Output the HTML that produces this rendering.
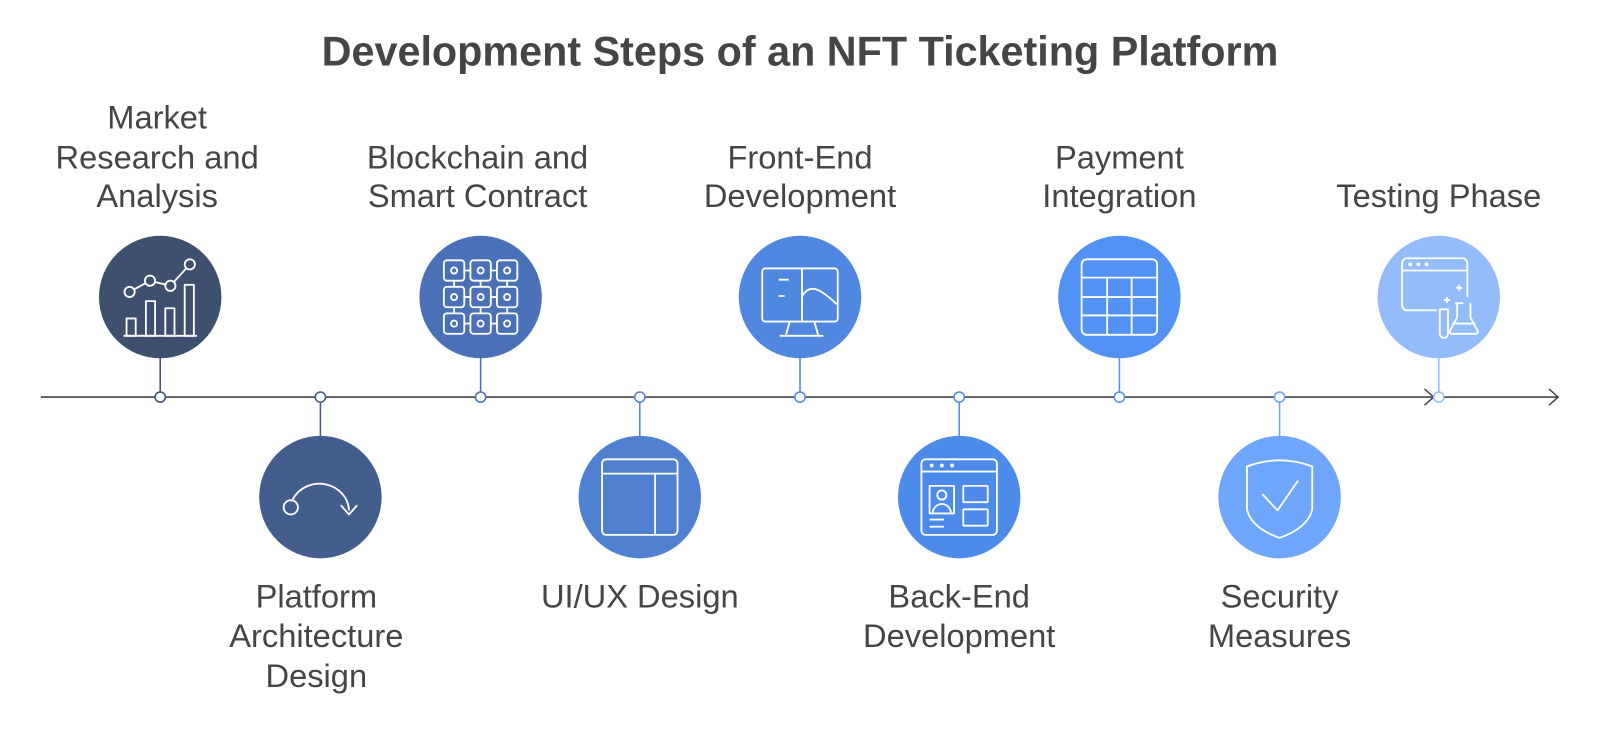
<!DOCTYPE html>
<html><head><meta charset="utf-8"><style>
html,body{margin:0;padding:0;background:#fff;}
svg{display:block;}
text{font-family:"Liberation Sans",Arial,sans-serif;fill:#454545;}
</style></head><body>
<svg width="1600" height="738" viewBox="0 0 1568 723" preserveAspectRatio="none" xmlns="http://www.w3.org/2000/svg">
<text x="784" y="64" text-anchor="middle" font-size="40.5" font-weight="bold">Development Steps of an NFT Ticketing Platform</text>

<line x1="40" y1="389" x2="1526" y2="389" stroke="#454545" stroke-width="1.5"/>
<polyline points="1518,381 1527,389 1518,397" fill="none" stroke="#454545" stroke-width="1.5"/>
<polyline points="1396,381 1405,389 1396,397" fill="none" stroke="#454545" stroke-width="1.5"/>

<g stroke-width="1.5" fill="#fff">
<line x1="157" y1="350" x2="157" y2="384" stroke="#3d506e"/><circle cx="157" cy="389" r="5" stroke="#3d506e"/>
<line x1="314" y1="394" x2="314" y2="428" stroke="#435e8d"/><circle cx="314" cy="389" r="5" stroke="#435e8d"/>
<line x1="471" y1="350" x2="471" y2="384" stroke="#4a70b8"/><circle cx="471" cy="389" r="5" stroke="#4a70b8"/>
<line x1="627" y1="394" x2="627" y2="428" stroke="#5080d0"/><circle cx="627" cy="389" r="5" stroke="#5080d0"/>
<line x1="784" y1="350" x2="784" y2="384" stroke="#5087e0"/><circle cx="784" cy="389" r="5" stroke="#5087e0"/>
<line x1="940" y1="394" x2="940" y2="428" stroke="#4d8bea"/><circle cx="940" cy="389" r="5" stroke="#4d8bea"/>
<line x1="1097" y1="350" x2="1097" y2="384" stroke="#5192f4"/><circle cx="1097" cy="389" r="5" stroke="#5192f4"/>
<line x1="1254" y1="394" x2="1254" y2="428" stroke="#6ea6fb"/><circle cx="1254" cy="389" r="5" stroke="#6ea6fb"/>
<line x1="1410" y1="350" x2="1410" y2="384" stroke="#94bcfb"/><circle cx="1410" cy="389" r="5" stroke="#94bcfb"/>
</g>

<circle cx="157" cy="291" r="60" fill="#3d506e"/>
<circle cx="314" cy="487" r="60" fill="#435e8d"/>
<circle cx="471" cy="291" r="60" fill="#4a70b8"/>
<circle cx="627" cy="487" r="60" fill="#5080d0"/>
<circle cx="784" cy="291" r="60" fill="#5087e0"/>
<circle cx="940" cy="487" r="60" fill="#4d8bea"/>
<circle cx="1097" cy="291" r="60" fill="#5192f4"/>
<circle cx="1254" cy="487" r="60" fill="#6ea6fb"/>
<circle cx="1410" cy="291" r="60" fill="#94bcfb"/>

<g fill="none" stroke="#fff" stroke-width="1.8" stroke-linejoin="round">
<g transform="translate(157,291)">
<line x1="-36" y1="38" x2="36" y2="38"/>
<rect x="-33" y="21" width="9" height="17"/><rect x="-14" y="4" width="9" height="34"/>
<rect x="5" y="11" width="9" height="27"/><rect x="24" y="-12" width="9" height="50"/>
<polyline points="-30,-5 -10,-16 10,-11 29,-32"/>
<circle cx="-30" cy="-5" r="5" fill="#3d506e"/><circle cx="-10" cy="-16" r="5" fill="#3d506e"/>
<circle cx="10" cy="-11" r="5" fill="#3d506e"/><circle cx="29" cy="-32" r="5" fill="#3d506e"/>
</g>
<g transform="translate(314,487)">
<circle cx="-29" cy="10" r="7"/>
<path d="M -27,2 A 29 27 0 0 1 28,13"/>
<polyline points="20,8 28,17 36,8"/>
</g>
<g transform="translate(471,291)">
<rect x="-36" y="-36" width="20" height="20" rx="3"/><rect x="-10" y="-36" width="20" height="20" rx="3"/><rect x="16" y="-36" width="20" height="20" rx="3"/>
<rect x="-36" y="-10" width="20" height="20" rx="3"/><rect x="-10" y="-10" width="20" height="20" rx="3"/><rect x="16" y="-10" width="20" height="20" rx="3"/>
<rect x="-36" y="16" width="20" height="20" rx="3"/><rect x="-10" y="16" width="20" height="20" rx="3"/><rect x="16" y="16" width="20" height="20" rx="3"/>
<circle cx="-26" cy="-26" r="3"/><circle cx="0" cy="-26" r="3"/><circle cx="26" cy="-26" r="3"/>
<circle cx="-26" cy="0" r="3"/><circle cx="0" cy="0" r="3"/><circle cx="26" cy="0" r="3"/>
<circle cx="-26" cy="26" r="3"/><circle cx="0" cy="26" r="3"/><circle cx="26" cy="26" r="3"/>
<path d="M-16,-26h6M10,-26h6M-16,0h6M10,0h6M-16,26h6M10,26h6M-26,-16v6M-26,10v6M0,-16v6M0,10v6M26,-16v6M26,10v6"/>
</g>
<g transform="translate(627,487)">
<rect x="-37" y="-37" width="74" height="74" rx="4"/>
<line x1="-37" y1="-23" x2="37" y2="-23"/><line x1="15" y1="-23" x2="15" y2="37"/>
</g>
<g transform="translate(784,291)">
<rect x="-37" y="-28" width="74" height="52" rx="3"/>
<line x1="2" y1="-28" x2="2" y2="24"/>
<path d="M-21,-17h10M-21,-1h6"/>
<path d="M2,-1 C10,-14 20,-8 36,7"/>
<path d="M-10,24 L-14,38 M14,24 L18,38 M-20,38 H23"/>
</g>
<g transform="translate(940,487)">
<rect x="-37" y="-37" width="74" height="74" rx="4"/>
<line x1="-37" y1="-25" x2="37" y2="-25"/>
<circle cx="-27" cy="-31" r="1" fill="#fff"/><circle cx="-17" cy="-31" r="1" fill="#fff"/><circle cx="-7" cy="-31" r="1" fill="#fff"/>
<rect x="-29" y="-11" width="24" height="27"/>
<circle cx="-17" cy="-2" r="4.5"/><path d="M-26,15 C-24,4 -10,4 -8,15"/>
<rect x="4" y="-11" width="24" height="16" rx="1"/><rect x="4" y="12" width="24" height="16" rx="1"/>
<path d="M-29,22h14M-29,29h14"/>
</g>
<g transform="translate(1097,291)">
<rect x="-37" y="-37" width="74" height="74" rx="5"/>
<path d="M-37,-19H37M-37,0H37M-37,18H37M-12,-19V37M12,-19V37"/>
</g>
<g transform="translate(1254,487)">
<path d="M-32,-30 Q0,-42 32,-30 L32,12 Q28,30 0,40 Q-28,30 -32,12 Z"/>
<polyline points="-17,-3 -2,13 18,-16"/>
</g>
<g transform="translate(1410,291)">
<path d="M-2,13 H-31 a5,5 0 0 1 -5,-5 V-33 a5,5 0 0 1 5,-5 H23 a5,5 0 0 1 5,5 V0"/>
<line x1="-36" y1="-26" x2="28" y2="-26"/>
<circle cx="-28" cy="-32" r="1" fill="#fff"/><circle cx="-20" cy="-32" r="1" fill="#fff"/><circle cx="-12" cy="-32" r="1" fill="#fff"/>
<path d="M17,-9h6M20,-12v6M5,3h6M8,0v6"/>
<path d="M1,12 h8 v24 a4,4 0 0 1 -8,0 Z"/>
<path d="M16,6 h8 M18,6 V20 L11,33 a2,2 0 0 0 2,3 H36 a2,2 0 0 0 2,-3 L31,20 V6"/>
<line x1="13" y1="26" x2="36" y2="26"/>
</g>
</g>

<g font-size="32" text-anchor="middle">
<text x="154" y="126">Market</text><text x="154" y="165">Research and</text><text x="154" y="203">Analysis</text>
<text x="468" y="165">Blockchain and</text><text x="468" y="203">Smart Contract</text>
<text x="784" y="165">Front-End</text><text x="784" y="203">Development</text>
<text x="1097" y="165">Payment</text><text x="1097" y="203">Integration</text>
<text x="1410" y="203">Testing Phase</text>
<text x="310" y="595">Platform</text><text x="310" y="634">Architecture</text><text x="310" y="673">Design</text>
<text x="627" y="595">UI/UX Design</text>
<text x="940" y="595">Back-End</text><text x="940" y="634">Development</text>
<text x="1254" y="595">Security</text><text x="1254" y="634">Measures</text>
</g>
</svg>
</body></html>
